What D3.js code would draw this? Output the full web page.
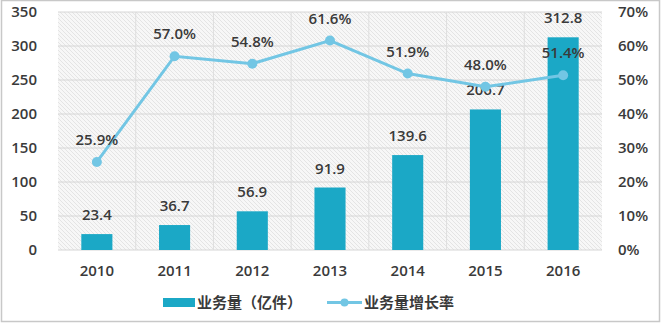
<!DOCTYPE html>
<html><head><meta charset="utf-8">
<script src="https://cdn.jsdelivr.net/npm/d3@7"></script>
<style>body{margin:0;background:#fff}svg{display:block}</style>
</head><body><svg id="c" width="662" height="325"></svg>
<script>
const years = ["2010","2011","2012","2013","2014","2015","2016"];
const volume = [23.4, 36.7, 56.9, 91.9, 139.6, 206.7, 312.8];
const growth = [25.9, 57.0, 54.8, 61.6, 51.9, 48.0, 51.4];
const leftTicks = [0,50,100,150,200,250,300,350];
const rightTicks = [0,10,20,30,40,50,60,70];
const legendLabels = ["业务量（亿件）","业务量增长率"];

const svg = d3.select("#c");
const font = "'Open Sans','Noto Sans CJK SC',sans-serif";
const m = {l:58, r:602, t:12, b:250};
const barColor = "#1ba8c6", lineColor = "#72c6e4", txt = "#3a3a3a";

// border
svg.append("rect").attr("x",1.5).attr("y",0.5).attr("width",658).attr("height",321)
  .attr("fill","none").attr("stroke","#c8c8c8").attr("stroke-width",1.5);

const defs = svg.append("defs");
const pat = defs.append("pattern").attr("id","hatch").attr("patternUnits","userSpaceOnUse")
  .attr("width",4).attr("height",4);
pat.append("rect").attr("width",4).attr("height",4).attr("fill","#f7f7f7");
pat.append("path").attr("d","M-1,-1 L5,5 M-1,3 L1,5 M3,-1 L5,1").attr("stroke","#e4e4e4").attr("stroke-width",1);

const x = d3.scaleBand().domain(years).range([m.l,m.r]).paddingInner(0.6).paddingOuter(0.3);
const xc = d3.scaleBand().domain(years).range([m.l,m.r]);
const y = d3.scaleLinear().domain([0,350]).range([m.b,m.t]);
const y2 = d3.scaleLinear().domain([0,70]).range([m.b,m.t]);

svg.append("rect").attr("x",m.l).attr("y",m.t).attr("width",m.r-m.l).attr("height",m.b-m.t).attr("fill","url(#hatch)");

// grid
svg.append("g").selectAll("line").data(leftTicks).join("line")
  .attr("x1",m.l).attr("x2",m.r).attr("y1",d=>y(d)).attr("y2",d=>y(d))
  .attr("stroke","#d6d6d6").attr("stroke-width",1);
svg.append("g").selectAll("line").data(years.slice(1)).join("line")
  .attr("x1",d=>xc(d)).attr("x2",d=>xc(d)).attr("y1",m.t).attr("y2",m.b)
  .attr("stroke","#dedede").attr("stroke-width",1);

// axes
const ax = d3.axisLeft(y).tickValues(leftTicks).tickSize(0).tickPadding(21);
const gL = svg.append("g").attr("transform",`translate(${m.l},0)`).call(ax);
const ar = d3.axisRight(y2).tickValues(rightTicks).tickSize(0).tickPadding(16).tickFormat(d=>d+"%");
const gR = svg.append("g").attr("transform",`translate(${m.r},0)`).call(ar);
const abx = d3.axisBottom(xc).tickSize(0).tickPadding(15);
const gB = svg.append("g").attr("transform",`translate(0,${m.b})`).call(abx);
[gL,gR,gB].forEach(g=>{
  g.select(".domain").remove();
  g.selectAll("text").attr("font-family",font).attr("font-size",15).attr("fill",txt).attr("font-weight",600);
});

// bars
svg.append("g").selectAll("rect").data(volume).join("rect")
  .attr("x",(d,i)=>x(years[i])).attr("width",x.bandwidth())
  .attr("y",d=>y(d)).attr("height",d=>m.b-y(d)).attr("fill",barColor);

svg.append("g").selectAll("text").data(volume).join("text")
  .attr("x",(d,i)=>x(years[i])+x.bandwidth()/2).attr("y",d=>y(d)-14)
  .attr("text-anchor","middle").attr("font-family",font).attr("font-size",15)
  .attr("font-weight",600).attr("fill",txt).text(d=>d.toFixed(1));

// line
const cx = (d,i)=>xc(years[i])+xc.bandwidth()/2;
svg.append("path").datum(growth)
  .attr("d",d3.line().x(cx).y(d=>y2(d)))
  .attr("fill","none").attr("stroke",lineColor).attr("stroke-width",3);
svg.append("g").selectAll("circle").data(growth).join("circle")
  .attr("cx",cx).attr("cy",d=>y2(d)).attr("r",5).attr("fill",lineColor);
svg.append("g").selectAll("text").data(growth).join("text")
  .attr("x",cx).attr("y",d=>y2(d)-17)
  .attr("text-anchor","middle").attr("font-family",font).attr("font-size",15)
  .attr("font-weight",600).attr("fill",txt).text(d=>d.toFixed(1)+"%");

// legend
const lg = svg.append("g");
const lf = "'Noto Sans CJK SC',sans-serif";
lg.append("rect").attr("x",163).attr("y",298).attr("width",32).attr("height",9).attr("fill",barColor);
lg.append("text").attr("x",197).attr("y",308).attr("font-family",lf).attr("font-size",15)
  .attr("font-weight",600).attr("fill",txt).text(legendLabels[0]);
lg.append("line").attr("x1",327).attr("x2",362).attr("y1",302.5).attr("y2",302.5)
  .attr("stroke",lineColor).attr("stroke-width",3);
lg.append("circle").attr("cx",344.5).attr("cy",302.5).attr("r",4).attr("fill",lineColor);
lg.append("text").attr("x",364).attr("y",308).attr("font-family",lf).attr("font-size",15)
  .attr("font-weight",600).attr("fill",txt).text(legendLabels[1]);
</script></body></html>
